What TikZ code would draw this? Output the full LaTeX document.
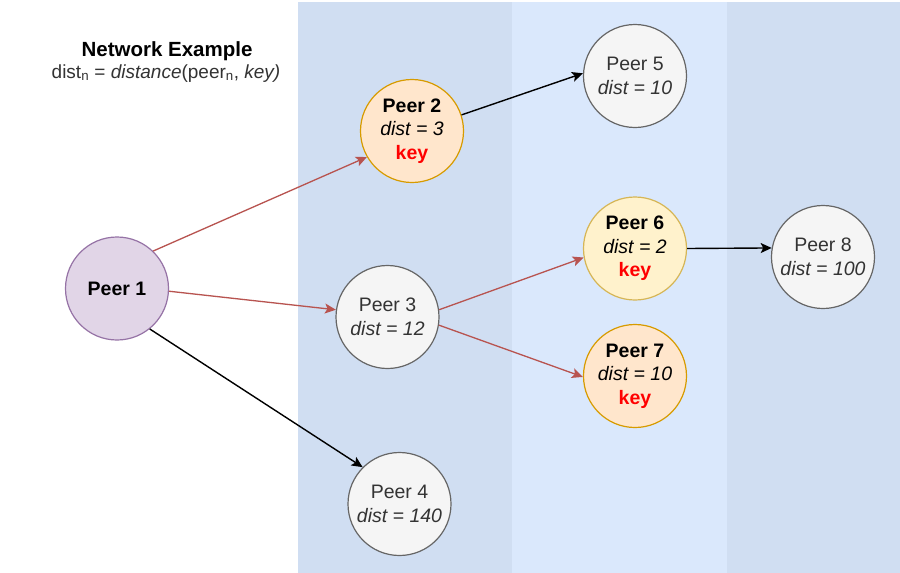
\documentclass[tikz,border=0pt]{standalone}
\usepackage{fontspec}
\setmainfont{Liberation Sans}
\usetikzlibrary{arrows.meta}
\definecolor{bandA}{HTML}{D0DEF2}
\definecolor{bandB}{HTML}{DAE8FC}
\definecolor{purpleF}{HTML}{E1D5E7}
\definecolor{purpleS}{HTML}{9673A6}
\definecolor{orangeF}{HTML}{FFE6CC}
\definecolor{orangeS}{HTML}{D79B00}
\definecolor{yellowF}{HTML}{FFF2CC}
\definecolor{yellowS}{HTML}{D6B656}
\definecolor{greyF}{HTML}{F5F5F5}
\definecolor{greyS}{HTML}{666666}
\definecolor{txt}{HTML}{333333}
\definecolor{redE}{HTML}{B85450}
\definecolor{keyred}{HTML}{FF0000}
\begin{document}
\begin{tikzpicture}[x=1pt,y=-1pt,
  peer/.style={circle, minimum size=103pt, inner sep=0pt, line width=1.2pt, align=center,
    font=\fontsize{19.5}{23.5}\selectfont},
  greypeer/.style={peer, fill=greyF, draw=greyS, text=txt},
  orangepeer/.style={peer, fill=orangeF, draw=orangeS},
  yellowpeer/.style={peer, fill=yellowF, draw=yellowS},
  purplepeer/.style={peer, fill=purpleF, draw=purpleS},
  redarrow/.style={draw=redE, fill=redE, line width=1.3pt, -{Stealth[length=11pt,width=10pt,inset=2.5pt]}},
  blackarrow/.style={draw=black, fill=black, line width=1.4pt, -{Stealth[length=11pt,width=10pt,inset=2.5pt]}},
  titletext/.style={anchor=base, inner sep=0pt}
]
\useasboundingbox (0,0) rectangle (900,573);
\fill[white] (0,0) rectangle (900,573);
% bands
\fill[bandA] (298,2) rectangle (512,573);
\fill[bandB] (512,2) rectangle (727,573);
\fill[bandA] (727,2) rectangle (900,573);

% title
\node[titletext, font=\fontsize{20.5}{24}\selectfont] (title) at (167,56) {\textbf{Network Example}};
\node[titletext, text=txt, font=\fontsize{19}{23}\selectfont] (formula) at (166,78) {dist\textsubscript{n} = \textit{distance}(peer\textsubscript{n}, \textit{key)}};

% peers
\node[purplepeer] (p1) at (117,288.5) {\textbf{Peer 1}};
\node[orangepeer] (p2) at (412,131) {\textbf{Peer 2}\\\textit{dist = 3}\\\textcolor{keyred}{\textbf{key}}};
\node[greypeer] (p3) at (387.5,317) {Peer 3\\\textit{dist = 12}};
\node[greypeer] (p4) at (399.5,504) {Peer 4\\\textit{dist = 140}};
\node[greypeer] (p5) at (635,76) {Peer 5\\\textit{dist = 10}};
\node[yellowpeer] (p6) at (635,248.5) {\textbf{Peer 6}\\\textit{dist = 2}\\\textcolor{keyred}{\textbf{key}}};
\node[orangepeer] (p7) at (635,376) {\textbf{Peer 7}\\\textit{dist = 10}\\\textcolor{keyred}{\textbf{key}}};
\node[greypeer] (p8) at (823,257) {Peer 8\\\textit{dist = 100}};

% edges
\draw[redarrow] (p1.46) -- (p2.210);
\draw[redarrow] (p1.-3.5) -- (p3.172);
\draw[blackarrow] (p1.-51) -- (p4.135);
\draw[blackarrow] (p2.18) -- (p5.177);
\draw[redarrow] (p3.8) -- (p6.190);
\draw[redarrow] (p3.-9) -- (p7.181);
\draw[blackarrow] (p6.0) -- (p8.170);
\end{tikzpicture}
\end{document}
